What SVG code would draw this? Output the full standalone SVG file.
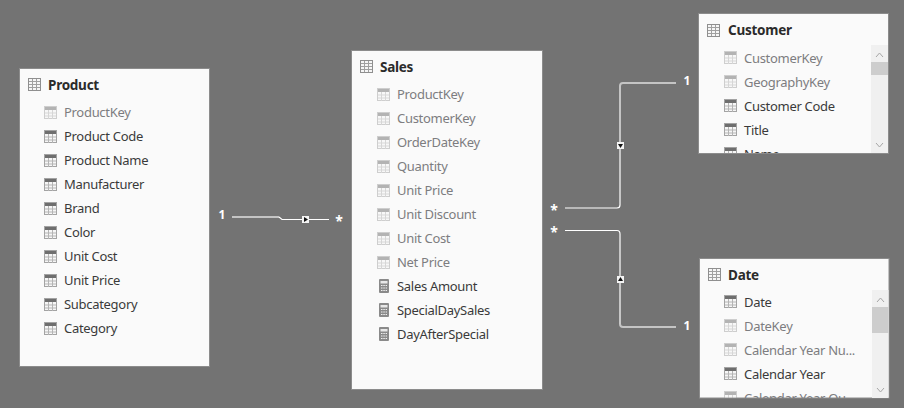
<svg xmlns="http://www.w3.org/2000/svg" width="904" height="408" viewBox="0 0 904 408">
<style>
text{font-family:"Noto Sans","Open Sans","Liberation Sans",sans-serif}
.card{fill:#fafafa;stroke:#8c8c8c;stroke-width:1}
.title{font-size:13.500px;font-weight:700;fill:#2b2b2b;letter-spacing:-.25px}
.f{font-size:13px;fill:#3a3a3a;letter-spacing:-.3px}
.h{font-size:13px;fill:#7d7d80;letter-spacing:-.3px}
.track{fill:#f0f0f0}.thumb{fill:#cdcdcd}
.chev{fill:none;stroke:#a6a6a6;stroke-width:1}
.gl{fill:none;stroke:#c4c4c4;stroke-width:2}
.wl{fill:none;stroke:#fff;stroke-width:1.200}
.mb{fill:#f4f4f4}.ma{fill:#111}
.card1{font-size:12px;font-weight:700;fill:#fff;text-anchor:middle}
.star{font-size:14px;font-weight:700;fill:#fff;text-anchor:middle}
</style>
<defs>
<g id="ti"><rect x=".5" y=".5" width="12" height="12" fill="#f6f6f6" stroke="#a3a3a3"/><path d="M1 2.5H12" stroke="#6e6e6e" stroke-width="3"/><path d="M1 7H12M1 10H12M4.5 4V13M8.5 4V13" stroke="#b4b4b4" stroke-width="1" fill="none"/></g>
<g id="tl" opacity=".5"><use href="#ti"/></g>
<g id="hi"><rect x=".5" y=".5" width="12" height="12" fill="#f6f6f6" stroke="#8f8f8f"/><path d="M1 3.500H12M1 6.500H12M1 9.500H12M4.500 1V12M8.500 1V12" stroke="#a0a0a0" stroke-width="1" fill="none"/></g>
<g id="ci"><rect x="1" y="0" width="10" height="14" rx="1" fill="#8a8a8a"/><rect x="2.500" y="2" width="7" height="2.500" fill="#e8e8e8"/><path d="M3 6.500H9M3 9H9M3 11.500H9" stroke="#f0f0f0" stroke-width="1.200" stroke-dasharray="1.500 .8"/></g>
<clipPath id="cc"><rect x="698" y="13" width="191" height="140"/></clipPath>
<clipPath id="cd"><rect x="699" y="258" width="190" height="140"/></clipPath>
</defs>
<rect width="904" height="408" fill="#737373"/>
<g id="connectors">
<path class="gl" d="M232 217H279"/><path class="wl" d="M279 217L282 219.500H329"/>
<rect class="mb" x="302" y="216" width="7" height="7"/><path class="ma" d="M304 217L308 219.500L304 222Z"/>
<text class="card1" x="222" y="219">1</text><text class="star" x="339" y="226">*</text>
<path class="wl" d="M565 208H617Q620 208 620 205V150"/><path class="gl" d="M620 150V86Q620 83 623 83H676"/>
<rect class="mb" x="617" y="142" width="7" height="7"/><path class="ma" d="M618 144H623L620.500 148Z"/>
<text class="card1" x="687" y="85">1</text><text class="star" x="554" y="215">*</text>
<path class="wl" d="M565 230.500H617Q620 230.500 620 234V324"/><path class="gl" d="M620 324Q620 327 623 327H676"/>
<rect class="mb" x="617" y="276" width="7" height="7"/><path class="ma" d="M620.500 277L623 281H618Z"/>
<text class="card1" x="687" y="330">1</text><text class="star" x="554" y="237">*</text>
</g>
<g id="product">
<rect class="card" x="19.500" y="68.500" width="190" height="298"/>
<use href="#hi" x="28" y="78"/><text class="title" x="48" y="90">Product</text>
<use href="#tl" x="44" y="106"/><text class="h" x="64" y="117">ProductKey</text>
<use href="#ti" x="44" y="130"/><text class="f" x="64" y="141">Product Code</text>
<use href="#ti" x="44" y="154"/><text class="f" x="64" y="165">Product Name</text>
<use href="#ti" x="44" y="178"/><text class="f" x="64" y="189">Manufacturer</text>
<use href="#ti" x="44" y="202"/><text class="f" x="64" y="213">Brand</text>
<use href="#ti" x="44" y="226"/><text class="f" x="64" y="237">Color</text>
<use href="#ti" x="44" y="250"/><text class="f" x="64" y="261">Unit Cost</text>
<use href="#ti" x="44" y="274"/><text class="f" x="64" y="285">Unit Price</text>
<use href="#ti" x="44" y="298"/><text class="f" x="64" y="309">Subcategory</text>
<use href="#ti" x="44" y="322"/><text class="f" x="64" y="333">Category</text>
</g>
<g id="sales">
<rect class="card" x="351.500" y="50.500" width="191" height="339"/>
<use href="#hi" x="360" y="60"/><text class="title" x="380" y="72">Sales</text>
<use href="#tl" x="377" y="88"/><text class="h" x="397" y="99">ProductKey</text>
<use href="#tl" x="377" y="112"/><text class="h" x="397" y="123">CustomerKey</text>
<use href="#tl" x="377" y="136"/><text class="h" x="397" y="147">OrderDateKey</text>
<use href="#tl" x="377" y="160"/><text class="h" x="397" y="171">Quantity</text>
<use href="#tl" x="377" y="184"/><text class="h" x="397" y="195">Unit Price</text>
<use href="#tl" x="377" y="208"/><text class="h" x="397" y="219">Unit Discount</text>
<use href="#tl" x="377" y="232"/><text class="h" x="397" y="243">Unit Cost</text>
<use href="#tl" x="377" y="256"/><text class="h" x="397" y="267">Net Price</text>
<use href="#ci" x="378" y="279"/><text class="f" x="397" y="291">Sales Amount</text>
<use href="#ci" x="378" y="303"/><text class="f" x="397" y="315">SpecialDaySales</text>
<use href="#ci" x="378" y="327"/><text class="f" x="397" y="339">DayAfterSpecial</text>
</g>
<g id="customer">
<rect class="card" x="698.500" y="13.500" width="190" height="140"/>
<g clip-path="url(#cc)">
<use href="#hi" x="707" y="24"/><text class="title" x="728" y="35">Customer</text>
<use href="#tl" x="724" y="51"/><text class="h" x="744" y="63">CustomerKey</text>
<use href="#tl" x="724" y="75"/><text class="h" x="744" y="87">GeographyKey</text>
<use href="#ti" x="724" y="99"/><text class="f" x="744" y="111">Customer Code</text>
<use href="#ti" x="724" y="123"/><text class="f" x="744" y="135">Title</text>
<use href="#ti" x="724" y="147"/><text class="f" x="744" y="159">Name</text>
<rect class="track" x="871" y="45" width="17" height="108"/><rect class="thumb" x="871" y="62" width="17" height="13"/>
<path class="chev" d="M876 57L879.500 53L883 57M876 143L879.500 147L883 143"/>
</g>
</g>
<g id="date">
<rect class="card" x="699.500" y="258.500" width="189.500" height="139.500"/>
<g clip-path="url(#cd)">
<use href="#hi" x="708" y="268"/><text class="title" x="728" y="280">Date</text>
<use href="#ti" x="724" y="295"/><text class="f" x="744" y="307">Date</text>
<use href="#tl" x="724" y="319"/><text class="h" x="744" y="331">DateKey</text>
<use href="#tl" x="724" y="343"/><text class="h" x="744" y="355">Calendar Year Nu...</text>
<use href="#ti" x="724" y="367"/><text class="f" x="744" y="379">Calendar Year</text>
<use href="#tl" x="724" y="391"/><text class="h" x="744" y="403">Calendar Year Qu...</text>
<rect class="track" x="872" y="290" width="16.500" height="108"/><rect class="thumb" x="872" y="307" width="16.500" height="26"/>
<path class="chev" d="M877 302L880.500 298L884 302M877 388L880.500 392L884 388"/>
</g>
</g>
</svg>
